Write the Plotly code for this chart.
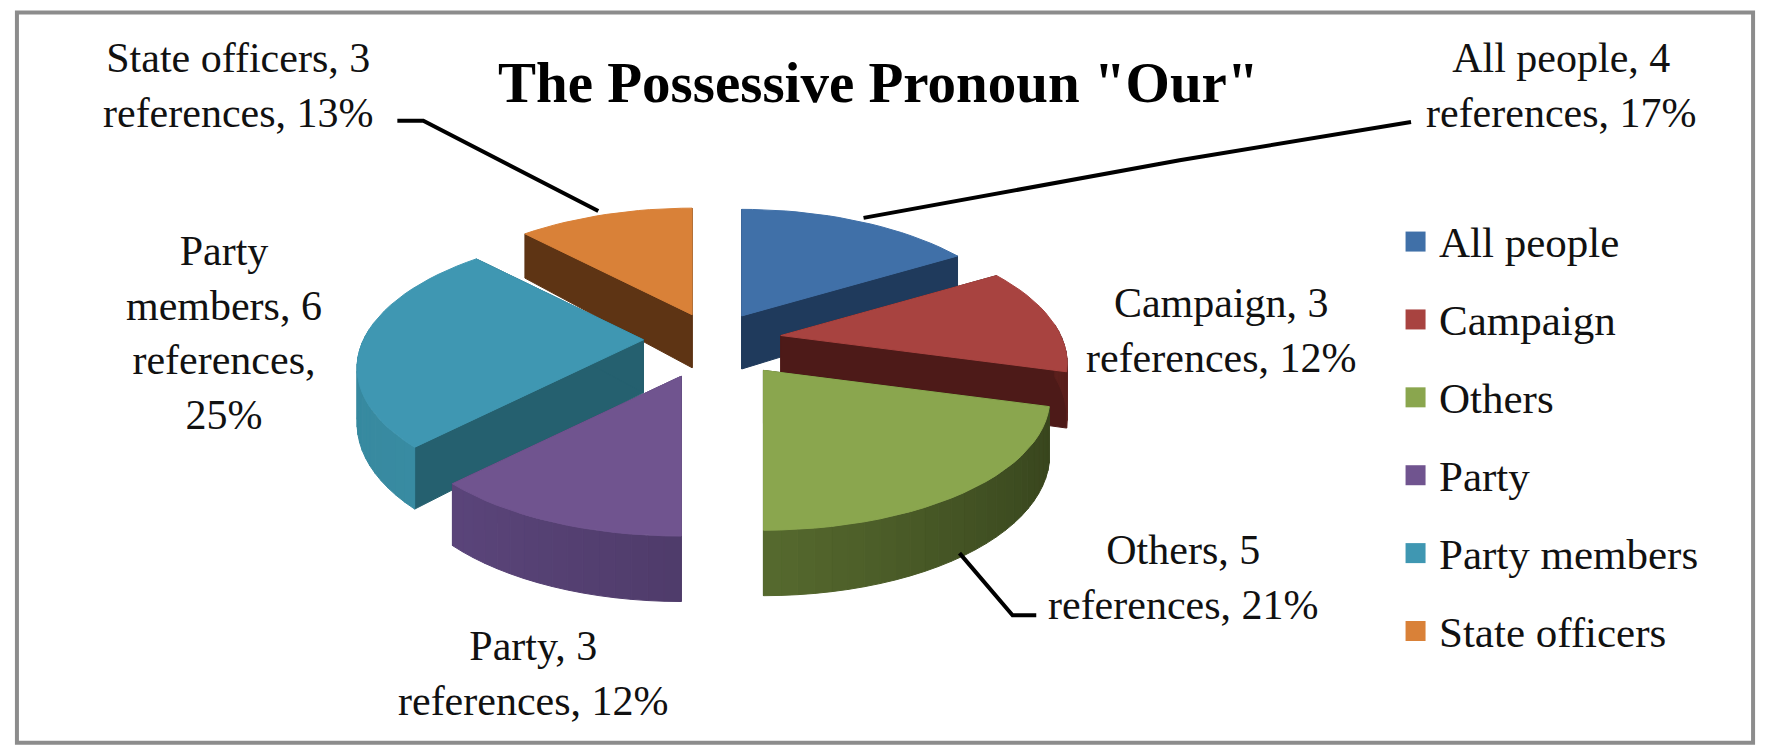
import math
import plotly.graph_objects as go

categories = ["All people", "Campaign", "Others", "Party", "Party members", "State officers"]
references = [4, 3, 5, 3, 6, 3]
percents = [17, 12, 21, 12, 25, 13]

top_colors = ["#4070a8", "#a84340", "#8aa64e", "#70548f", "#3f97b2", "#d98138"]
edge_colors = ["#1f3a5c", "#4d1a18", "#3f4d22", "#4e3b68", "#25606f", "#5e3414"]
side_dark = ["#1f3a5c", "#5a1f1c", "#37441d", "#3f2f55", "#37899f", "#5e3414"]
side_light = ["#2f5480", "#7a2c28", "#75903f", "#5f4880", "#3f97b2", "#5e3414"]
paint_order = [5, 0, 1, 2, 4, 3]

# pie geometry, axes run 0-1568 across the page
CX, CY = 632, 301
RX, RY = 248, 118
PERSP_X, PERSP_Y = 0.22, 0.2
PULL = 0.25


def project(angle, r=1.0):
    # front of the pie is drawn bigger than the back
    s, c = math.sin(math.radians(angle)), math.cos(math.radians(angle))
    return RX * r * s * (1 - PERSP_X * c), -RY * r * c * (1 - PERSP_Y * c)


def thick(angle):
    return 47 - 11 * math.cos(math.radians(angle))


def blend(c1, c2, t):
    v1 = [int(c1[i:i + 2], 16) for i in (1, 3, 5)]
    v2 = [int(c2[i:i + 2], 16) for i in (1, 3, 5)]
    return "rgb(%d,%d,%d)" % tuple(round(a + (b - a) * t) for a, b in zip(v1, v2))


def poly(fig, pts, color):
    xs = [p[0] for p in pts] + [pts[0][0]]
    ys = [p[1] for p in pts] + [pts[0][1]]
    fig.add_trace(go.Scatter(x=xs, y=ys, mode="lines", fill="toself", fillcolor=color,
                             line=dict(width=1, color=color), hoverinfo="skip", showlegend=False))


fig = go.Figure()

total = sum(references)
starts = [0]
for v in references:
    starts.append(starts[-1] + v / total * 360)

for i in paint_order:
    a0, a1 = starts[i], starts[i + 1]
    dx, dy = project((a0 + a1) / 2, PULL)
    tip = (CX + dx, CY + dy)
    arc = []
    n = int((a1 - a0) / 3) + 1
    for k in range(n + 1):
        a = a0 + (a1 - a0) * k / n
        px, py = project(a)
        arc.append((tip[0] + px, tip[1] + py, a))

    # flat cut faces
    for p in (arc[0], arc[-1]):
        poly(fig, [tip, (p[0], p[1]), (p[0], p[1] + thick(p[2])), (tip[0], tip[1] + 47)], edge_colors[i])
    # curved outer wall, front part only
    for k in range(n):
        p, q = arc[k], arc[k + 1]
        if 85 < (p[2] + q[2]) / 2 < 275:
            t = (math.sin(math.radians((p[2] + q[2]) / 2)) + 1) / 2
            if i in (1, 2, 3):
                t = 1 - t
            poly(fig, [(p[0], p[1]), (q[0], q[1]), (q[0], q[1] + thick(q[2])), (p[0], p[1] + thick(p[2]))],
                 blend(side_dark[i], side_light[i], t))
    poly(fig, [tip] + [(p[0], p[1]) for p in arc], top_colors[i])

# legend rows
for row, (name, color) in enumerate(zip(categories, top_colors)):
    fig.add_trace(go.Scatter(x=[1254], y=[214 + row * 69], mode="markers", hoverinfo="skip", showlegend=False,
                             marker=dict(symbol="square", size=20, color=color)))
    fig.add_annotation(x=1273, y=215 + row * 69, text=name, showarrow=False, xanchor="left",
                       font=dict(family="Liberation Serif", size=43, color="#111111"))

labels = [
    ("All people, 4<br>references, %d%%" % percents[0], 1383, 76),
    ("Campaign, 3<br>references, %d%%" % percents[1], 1082, 293),
    ("Others, 5<br>references, %d%%" % percents[2], 1048, 512),
    ("Party, 3<br>references, %d%%" % percents[3], 473, 597),
    ("Party<br>members, 6<br>references,<br>%d%%" % percents[4], 198, 295),
    ("State officers, 3<br>references, %d%%" % percents[5], 211, 76),
]
for text, x, y in labels:
    fig.add_annotation(x=x, y=y, text=text, showarrow=False, xanchor="center", yanchor="middle",
                       font=dict(family="Liberation Serif", size=42, color="#111111"))

fig.add_annotation(x=778, y=73, text='<b>The Possessive Pronoun "Our"</b>', showarrow=False,
                   font=dict(family="Liberation Serif", size=57, color="#000000"))

leader = dict(type="path", line=dict(color="#000000", width=4))
fig.add_shape(path="M 765 193 L 1045 142 L 1250 108", **leader)
fig.add_shape(path="M 352 107 L 375 107 L 530 187", **leader)
fig.add_shape(path="M 850 490 L 897 545 L 918 545", **leader)
# chart frame
fig.add_shape(type="rect", x0=15, y0=11, x1=1553, y1=658, line=dict(color="#8c8c8c", width=4))

fig.update_layout(
    width=1770, height=745, autosize=False,
    margin=dict(l=0, r=0, t=0, b=0),
    paper_bgcolor="white", plot_bgcolor="white",
    showlegend=False,
    xaxis=dict(range=[0, 1568], visible=False, fixedrange=True),
    yaxis=dict(range=[660, 0], visible=False, fixedrange=True),
)

fig.write_html("out.html", config={"displayModeBar": False}, post_script="document.body.style.margin='0';")
